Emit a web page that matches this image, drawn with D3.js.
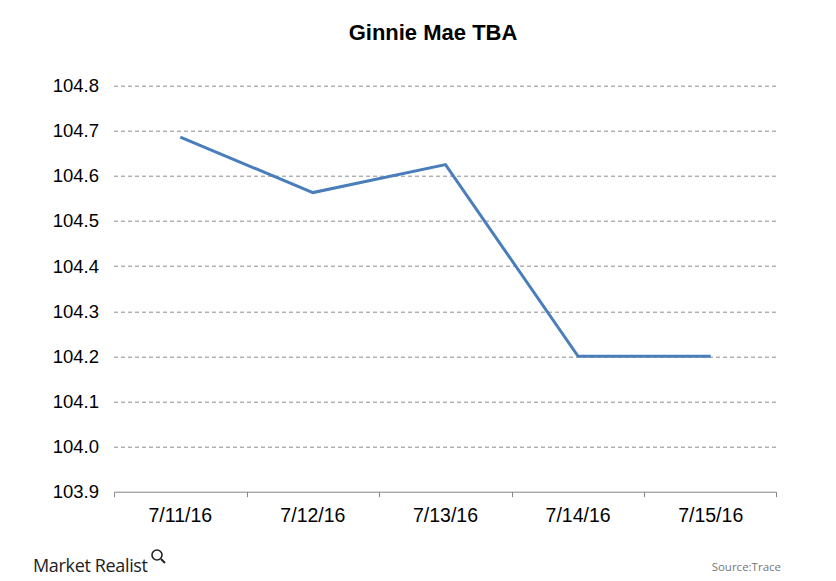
<!DOCTYPE html>
<html>
<head>
<meta charset="utf-8">
<script src="https://cdnjs.cloudflare.com/ajax/libs/d3/7.8.5/d3.min.js"></script>
<style>
  body { margin: 0; background: #fff; }
  svg { font-family: "Liberation Sans", Arial, sans-serif; }
</style>
</head>
<body>
<div id="chart"></div>
<script>
// data
var dates = ["7/11/16", "7/12/16", "7/13/16", "7/14/16", "7/15/16"];
var prices = [104.686, 104.563, 104.625, 104.2, 104.2];
var yTicks = [103.9, 104.0, 104.1, 104.2, 104.3, 104.4, 104.5, 104.6, 104.7, 104.8];

var W = 836, H = 581;
var margin = {top: 85.7, right: 59, bottom: 89.4, left: 114};
var width = W - margin.left - margin.right,
    height = H - margin.top - margin.bottom;

var svg = d3.select("#chart").append("svg")
    .attr("width", W)
    .attr("height", H);

// title
svg.append("text")
  .attr("x", 433).attr("y", 40)
  .attr("text-anchor", "middle")
  .style("font-size", "22px").style("font-weight", "bold")
  .text("Ginnie Mae TBA");

var g = svg.append("g")
  .attr("transform", "translate(" + margin.left + "," + margin.top + ")");

var x = d3.scaleBand().domain(dates).range([0, width]);
var y = d3.scaleLinear().domain([103.9, 104.8]).range([height, 0]);

// gridlines
g.selectAll(".grid")
  .data(yTicks.filter(function(d) { return d > 103.9; }))
  .enter().append("line")
    .attr("x1", 0).attr("x2", width)
    .attr("y1", function(d) { return Math.round(y(d)) + 0.5; })
    .attr("y2", function(d) { return Math.round(y(d)) + 0.5; })
    .attr("stroke", "#8c8c8c")
    .attr("stroke-width", 1)
    .attr("stroke-dasharray", "4,3");

// y axis labels (no axis line)
var yAxis = g.append("g")
  .call(d3.axisLeft(y).tickValues(yTicks).tickFormat(d3.format(".1f")).tickSize(0).tickPadding(15));
yAxis.select(".domain").remove();
yAxis.selectAll("text")
  .style("font-size", "18.5px").style("fill", "#000")
  .style("font-family", "'Liberation Sans', Arial, sans-serif");

// x axis
var xAxis = g.append("g")
  .attr("transform", "translate(0," + (Math.round(height) + 0.5) + ")")
  .call(d3.axisBottom(x).tickSize(0).tickPadding(16));
xAxis.select(".domain").attr("stroke", "#868686").attr("d", "M0.5,5V0H" + (width - 0.5) + "V5");
xAxis.selectAll("text")
  .style("font-size", "19.5px").style("fill", "#000")
  .style("font-family", "'Liberation Sans', Arial, sans-serif");
// tick marks between categories
g.selectAll(".xtick")
  .data(dates.slice(1))
  .enter().append("line")
    .attr("x1", function(d) { return Math.round(x(d)) + 0.5; })
    .attr("x2", function(d) { return Math.round(x(d)) + 0.5; })
    .attr("y1", Math.round(height) + 0.5)
    .attr("y2", Math.round(height) + 5.5)
    .attr("stroke", "#868686");

// line
var line = d3.line()
  .x(function(d, i) { return x(dates[i]) + x.bandwidth() / 2; })
  .y(function(d) { return y(d); });

g.append("path")
  .datum(prices)
  .attr("fill", "none")
  .attr("stroke", "#4a7ebb")
  .attr("stroke-width", 3)
  .attr("stroke-linejoin", "miter")
  .attr("d", line);

// footer
var logo = svg.append("g").attr("transform", "translate(33,572)");
logo.append("text")
  .attr("x", 0).attr("y", 0)
  .attr("textLength", 115)
  .style("font-size", "18px").style("fill", "#222")
  .style("font-family", "'Open Sans', 'Liberation Sans', sans-serif")
  .text("Market Realist");
logo.append("circle").attr("cx", 124).attr("cy", -17).attr("r", 5)
  .attr("fill", "none").attr("stroke", "#222").attr("stroke-width", 1.6);
logo.append("line").attr("x1", 128).attr("y1", -13).attr("x2", 132).attr("y2", -9)
  .attr("stroke", "#222").attr("stroke-width", 2);

svg.append("text")
  .attr("x", 781).attr("y", 571)
  .attr("text-anchor", "end")
  .style("font-size", "11.5px").style("fill", "#777")
  .style("font-family", "'Open Sans', 'Liberation Sans', sans-serif")
  .text("Source:Trace");
</script>
</body>
</html>
